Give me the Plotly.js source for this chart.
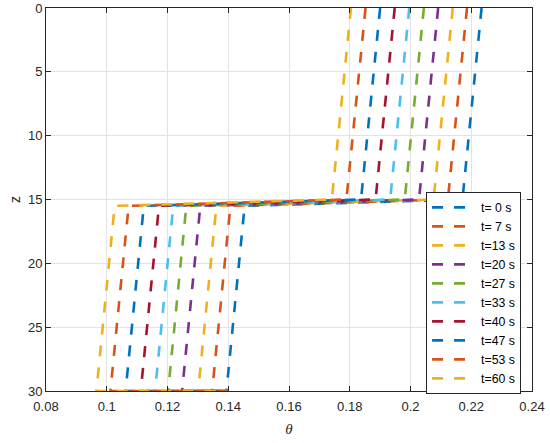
<!DOCTYPE html>
<html>
<head>
<meta charset="utf-8">
<script src="https://cdn.plot.ly/plotly-3.0.1.min.js"></script>
<style>html,body{margin:0;padding:0;background:#fff;}#chart{width:550px;height:443px;}</style>
</head>
<body>
<div id="chart"></div>
<script>
// Series labels (time, s)
const times = [0, 7, 13, 20, 27, 33, 40, 47, 53, 60];
const seriesNames = ["t= 0 s","t= 7 s","t=13 s","t=20 s","t=27 s","t=33 s","t=40 s","t=47 s","t=53 s","t=60 s"];
// Depth points of each profile
const zPoints = [0, 15, 15.5, 30, 30];
// theta at z=0 (top of upper layer)
const thetaTop = [0.2234, 0.2186, 0.2139, 0.2091, 0.2044, 0.1996, 0.1948, 0.1900, 0.1852, 0.1804];
// theta at z=15 (bottom of upper layer)
const thetaUpperBottom = [0.2171, 0.2123, 0.2076, 0.2028, 0.1981, 0.1933, 0.1885, 0.1837, 0.1789, 0.1741];
// theta at z=15.5 (top of lower layer)
const thetaLowerTop = [0.1454, 0.1407, 0.1361, 0.1308, 0.1262, 0.1219, 0.1172, 0.1122, 0.1072, 0.1026];
// theta at z=30 (bottom of lower layer)
const thetaBottom = [0.1394, 0.1347, 0.1301, 0.1248, 0.1202, 0.1159, 0.1112, 0.1062, 0.1012, 0.0966];
// theta at the bottom boundary node
const thetaBoundary = [0.1394, 0.1394, 0.1394, 0.1394, 0.1394, 0.1394, 0.1394, 0.1394, 0.1394, 0.1394];

const xTickVals = [0.08, 0.10, 0.12, 0.14, 0.16, 0.18, 0.20, 0.22, 0.24];
const xTickText = ["0.08","0.1","0.12","0.14","0.16","0.18","0.2","0.22","0.24"];
const yTickVals = [0, 5, 10, 15, 20, 25, 30];

const colors = ["#0072BD","#D95319","#EDB120","#7E2F8E","#77AC30","#4DBEEE","#A2142F","#0072BD","#D95319","#EDB120"];

const traces = times.map((t, i) => ({
  type: 'scatter',
  mode: 'lines',
  name: seriesNames[i],
  x: [thetaTop[i], thetaUpperBottom[i], thetaLowerTop[i], thetaBottom[i], thetaBoundary[i]],
  y: zPoints,
  line: {color: colors[i], width: 2.6, dash: '11px,11px'},
  hoverinfo: 'skip'
}));

const axisCommon = {
  showgrid: true,
  gridcolor: '#e3e3e3',
  gridwidth: 1,
  zeroline: false,
  showline: true,
  linecolor: '#262626',
  linewidth: 1,
  mirror: 'ticks',
  ticks: 'inside',
  ticklen: 5,
  tickwidth: 1,
  tickcolor: '#262626',
  tickfont: {family: 'Liberation Sans, Arial, sans-serif', size: 13, color: '#262626'}
};

const layout = {
  width: 550,
  height: 443,
  margin: {l: 46, r: 18, t: 8, b: 52},
  paper_bgcolor: '#ffffff',
  plot_bgcolor: '#ffffff',
  showlegend: true,
  xaxis: Object.assign({}, axisCommon, {
    range: [0.08, 0.24],
    tickmode: 'array',
    tickvals: xTickVals,
    ticktext: xTickText,
    ticklabelstandoff: 3,
    title: {text: '<i>θ</i>', font: {family: 'Liberation Serif, Times New Roman, serif', size: 15, color: '#262626'}, standoff: 10}
  }),
  yaxis: Object.assign({}, axisCommon, {
    range: [30, 0],
    tickmode: 'array',
    tickvals: yTickVals,
    title: {text: 'z', font: {family: 'Liberation Sans, Arial, sans-serif', size: 14, color: '#262626'}, standoff: 4}
  }),
  legend: {
    x: 0.782, y: 0.52, xanchor: 'left', yanchor: 'top',
    bgcolor: '#ffffff',
    bordercolor: '#262626',
    borderwidth: 1,
    font: {family: 'Liberation Sans, Arial, sans-serif', size: 12.3, color: '#000000'},
    tracegroupgap: 0,
    itemwidth: 44
  }
};

Plotly.newPlot('chart', traces, layout, {displayModeBar: false, staticPlot: true});
</script>
</body>
</html>
